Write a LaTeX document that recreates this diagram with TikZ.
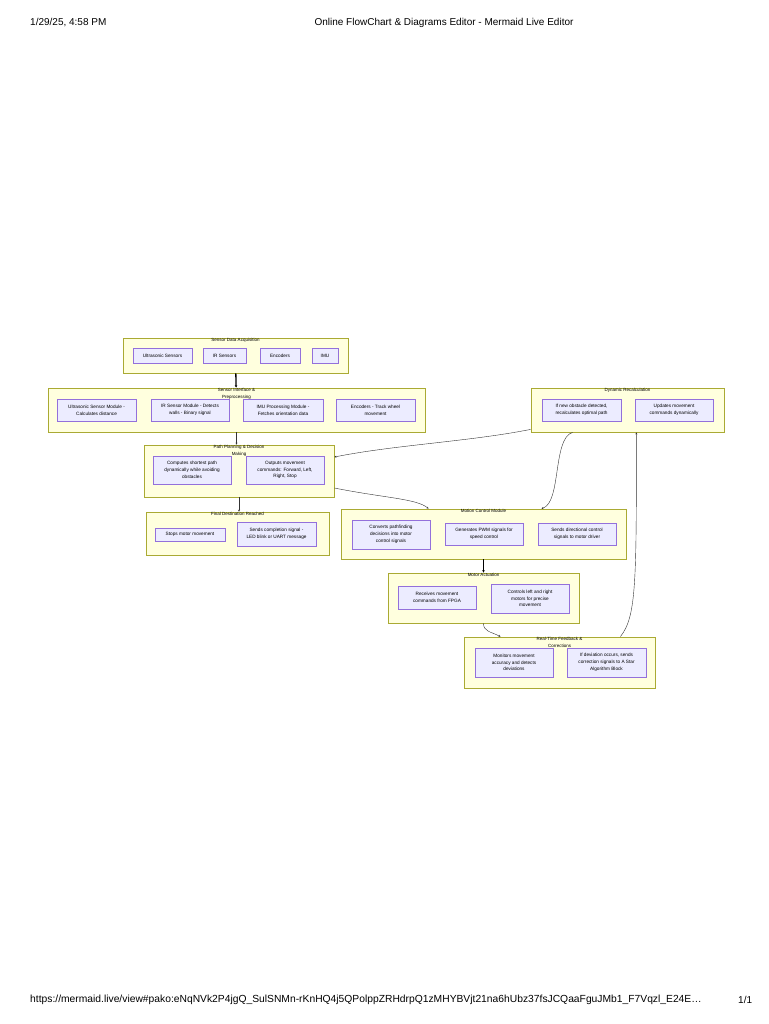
\documentclass[tikz,border=0pt]{standalone}
\usepackage{fontspec}
\setmainfont{Liberation Sans}
\usetikzlibrary{arrows.meta}

\definecolor{clfill}{HTML}{FFFFDE}
\definecolor{cldraw}{HTML}{AAAA33}
\definecolor{bxfill}{HTML}{ECECFF}
\definecolor{bxdraw}{HTML}{9370DB}
\definecolor{edgegray}{HTML}{333333}

\tikzset{
  cluster/.style={draw=cldraw, fill=clfill, line width=0.8pt, inner sep=0pt},
  cltitle/.style={anchor=north, font=\fontsize{4.5}{6.6}\selectfont, inner sep=0.6pt, align=center},
  box/.style={draw=bxdraw, fill=bxfill, line width=0.8pt, inner sep=0pt, align=center,
    font=\fontsize{4.7}{6.8}\selectfont},
  link/.style={draw=edgegray, line width=0.4pt, -{Stealth[length=2pt,width=2pt]}},
  mainlink/.style={draw=black, line width=1.3pt, -{Stealth[length=2.5pt,width=2.5pt]}},
  pagetext/.style={font=\fontsize{10}{12}\selectfont, inner sep=0pt},
}

\begin{document}
\begin{tikzpicture}[x=1pt, y=-1pt]
  \fill[white] (0,0) rectangle (768,1024);
  \useasboundingbox (0,0) rectangle (768,1024);

  % page header and footer
  \node[pagetext, anchor=west] (date) at (30,23) {1/29/25, 4:58 PM};
  \node[pagetext] (title) at (444,23) {Online FlowChart \& Diagrams Editor - Mermaid Live Editor};
  \node[pagetext, anchor=west, font=\fontsize{10.3}{12}\selectfont] (url) at (30,1000)
    {https://mermaid.live/view\#pako:eNqNVk2P4jgQ\_SulSNMn-rKnHQ4j5QPolppZRHdrpQ1zMHYBVjt21na6hUbz37fsJCQaaFguJMb1\_F7Vqzl\_E24E\ldots};
  \node[pagetext, anchor=west] (pageno) at (738,1000) {1/1};

  % Sensor Data Acquisition
  \node[cluster, minimum width=225, minimum height=35] (sda) at (235.5,355.5) {};
  \node[cltitle] at (sda.north) {Sensor Data Acquisition};
  \node[box, minimum width=59, minimum height=15] (usens) at (162.5,355.5) {Ultrasonic Sensors};
  \node[box, minimum width=43, minimum height=15] (irsens) at (224.5,355.5) {IR Sensors};
  \node[box, minimum width=40, minimum height=15] (encs) at (280,355.5) {Encoders};
  \node[box, minimum width=26, minimum height=15] (imu) at (325,355.5) {IMU};

  % Sensor Interface & Preprocessing
  \node[cluster, minimum width=377, minimum height=44] (sip) at (236.5,410) {};
  \node[cltitle] at (sip.north) {Sensor Interface \&\\Preprocessing};
  \node[box, minimum width=79, minimum height=22] (usmod) at (96.5,410) {Ultrasonic Sensor Module -\\Calculates distance};
  \node[box, minimum width=78, minimum height=22] (irmod) at (190,410) {IR Sensor Module - Detects\\walls - Binary signal};
  \node[box, minimum width=80, minimum height=22] (imumod) at (283,410) {IMU Processing Module -\\Fetches orientation data};
  \node[box, minimum width=79, minimum height=22] (encmod) at (375.5,410) {Encoders - Track wheel\\movement};

  % Dynamic Recalculation
  \node[cluster, minimum width=193, minimum height=44] (dyn) at (627.5,410) {};
  \node[cltitle] at (dyn.north) {Dynamic Recalculation};
  \node[box, minimum width=79, minimum height=22] (newobs) at (581.5,410) {If new obstacle detected,\\recalculates optimal path};
  \node[box, minimum width=78, minimum height=22] (updcmd) at (674,410) {Updates movement\\commands dynamically};

  % Path Planning & Decision Making
  \node[cluster, minimum width=190, minimum height=52] (ppd) at (239,471) {};
  \node[cltitle] at (ppd.north) {Path Planning \& Decision\\Making};
  \node[box, minimum width=78, minimum height=28] (shortest) at (192,470) {Computes shortest path\\dynamically while avoiding\\obstacles};
  \node[box, minimum width=78, minimum height=28] (outcmd) at (285,470) {Outputs movement\\commands: Forward, Left,\\Right, Stop};

  % Final Destination Reached
  \node[cluster, minimum width=183, minimum height=43] (fdr) at (237.5,533.5) {};
  \node[cltitle] at (fdr.north) {Final Destination Reached};
  \node[box, minimum width=70, minimum height=13] (stops) at (190,534.5) {Stops motor movement};
  \node[box, minimum width=79, minimum height=24] (sends) at (276.5,534) {Sends completion signal -\\LED blink or UART message};

  % Motion Control Module
  \node[cluster, minimum width=285, minimum height=50] (mcm) at (483.5,534) {};
  \node[cltitle] at (mcm.north) {Motion Control Module};
  \node[box, minimum width=78, minimum height=29] (convert) at (391,534.5) {Converts pathfinding\\decisions into motor\\control signals};
  \node[box, minimum width=78, minimum height=22] (pwm) at (484,534) {Generates PWM signals for\\speed control};
  \node[box, minimum width=78, minimum height=22] (dirsig) at (577,534) {Sends directional control\\signals to motor driver};

  % Motor Actuation
  \node[cluster, minimum width=191, minimum height=50] (mot) at (483.5,598) {};
  \node[cltitle] at (mot.north) {Motor Actuation};
  \node[box, minimum width=78, minimum height=23] (recv) at (437,597.5) {Receives movement\\commands from FPGA};
  \node[box, minimum width=78, minimum height=29] (motors) at (530,598.5) {Controls left and right\\motors for precise\\movement};

  % Real-Time Feedback & Corrections
  \node[cluster, minimum width=191, minimum height=51] (fbk) at (559.5,662.5) {};
  \node[cltitle] at (fbk.north) {Real-Time Feedback \&\\Corrections};
  \node[box, minimum width=78, minimum height=29] (monitor) at (514,662.5) {Monitors movement\\accuracy and detects\\deviations};
  \node[box, minimum width=79, minimum height=29] (deviate) at (606.5,662.5) {If deviation occurs, sends\\correction signals to A Star\\Algorithm Block};

  % connectors
  \draw[mainlink] (sda) -- (sip);
  \draw[link] (sip.south) -- (sip.south |- ppd.north);
  \draw[link] (ppd.south) -- (ppd.south |- fdr.north);
  \draw[link] ([yshift=-17pt]ppd.east) .. controls +(50,10) and +(-12,-10) .. ([xshift=-55pt]mcm.north);
  \draw[link] ([yshift=3pt]dyn.south west) .. controls +(-60,12) and +(60,-12) .. ([yshift=14pt]ppd.east);
  \draw[link] ([xshift=-55pt]dyn.south) .. controls +(-20,6) and +(20,-6) .. ([xshift=58pt]mcm.north);
  \draw[mainlink] (mcm) -- (mot);
  \draw[link] (mot.south) .. controls +(0,8) and +(-10,-5) .. ([xshift=-59pt]fbk.north);
  \draw[link] ([xshift=-35pt]fbk.north east) .. controls +(16,-20) and +(0,150) .. ([xshift=-88pt]dyn.south east);
\end{tikzpicture}
\end{document}
